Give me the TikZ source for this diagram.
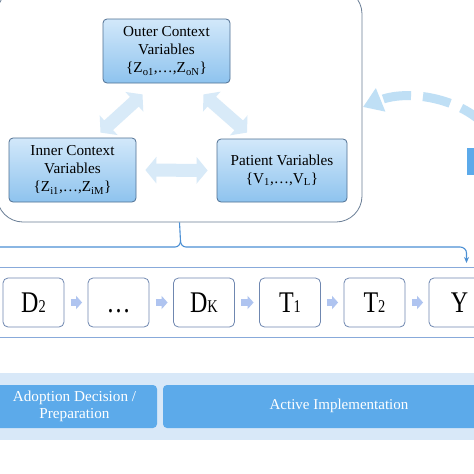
\documentclass[tikz,border=0pt]{standalone}
\usepackage{fontspec}
\setmainfont{Liberation Serif}
\newfontfamily\condserif[FakeStretch=0.8]{Liberation Serif}
\usetikzlibrary{arrows.meta}
\definecolor{boxtop}{HTML}{D2E8FA}
\definecolor{boxbot}{HTML}{8EC3EE}
\definecolor{boxline}{HTML}{4F6F92}
\definecolor{dblc}{HTML}{D8EAF8}
\definecolor{dashc}{HTML}{BFDFF5}
\definecolor{bandc}{HTML}{D8E8F8}
\definecolor{phasec}{HTML}{5CAAEA}
\definecolor{bracec}{HTML}{4C90D4}
\definecolor{rowline}{HTML}{88AADA}
\definecolor{sboxline}{HTML}{6F87B0}
\definecolor{sarrc}{HTML}{AFC4F0}
\definecolor{ctxline}{HTML}{6A7E96}
\tikzset{
  varbox/.style={draw=boxline, line width=0.8pt, rounded corners=4pt, top color=boxtop, bottom color=boxbot,
    align=center, font=\fontsize{15.2}{18}\selectfont, inner sep=0pt},
  ctxbox/.style={draw=ctxline, line width=0.8pt, rounded corners=26pt, inner sep=0pt},
  dbl/.style={draw=dblc, line width=13pt, {Triangle[length=11pt,width=26pt]}-{Triangle[length=11pt,width=26pt]}},
  stepbox/.style={draw=sboxline, line width=0.8pt, rounded corners=5pt, fill=white, minimum width=61pt, minimum height=49pt,
    inner sep=0pt, text height=20pt, text depth=0pt, font=\condserif\fontsize{30}{30}\selectfont},
  sarr/.style={draw=sarrc, line width=6.5pt, -{Triangle[length=6pt,width=13pt]}, shorten <=6.5pt, shorten >=5.5pt},
  phase/.style={fill=phasec, rounded corners=4pt, text=white, align=center, font=\fontsize{15.2}{17}\selectfont, inner sep=0pt},
  bracel/.style={draw=bracec, line width=1.1pt},
}
\newcommand{\smallsub}[1]{{\fontsize{18}{18}\selectfont #1}}
\begin{document}
\begin{tikzpicture}[x=1pt,y=-1pt]
\clip (0,0) rectangle (474,474);
\fill[white] (0,0) rectangle (474,474);
% context container
\node[ctxbox, minimum width=365pt, minimum height=234pt] (ctx) at (179.5,105) {};
% variable boxes
\node[varbox, minimum width=127pt, minimum height=64pt] (outer) at (166.5,51) {Outer Context\\Variables\\\{Z\textsubscript{o1},…,Z\textsubscript{oN}\}};
\node[varbox, minimum width=127pt, minimum height=64pt] (inner) at (72.5,170) {Inner Context\\Variables\\\{Z\textsubscript{i1},…,Z\textsubscript{iM}\}};
\node[varbox, minimum width=130pt, minimum height=63pt] (patient) at (282,170.5) {Patient Variables\\\{V\textsubscript{1},…,V\textsubscript{L}\}};
% double arrows
\draw[dbl] ([shift={(-24,11)}]outer.south) -- ([shift={(28,-5)}]inner.north);
\draw[dbl] ([shift={(37,11)}]outer.south) -- ([shift={(-35,-6)}]patient.north);
\draw[dbl] ([xshift=9]inner.east) -- ([xshift=-9]patient.west);
% feedback dashed arrow
\node[fill=phasec, minimum width=14pt, minimum height=27pt, inner sep=0pt] (rbox) at (474,161.5) {};
\coordinate (fbstart) at (484,124);
\coordinate (fbtip) at (363,107);
\draw[draw=dashc, line width=9pt, dash pattern=on 28pt off 12pt, -{Triangle[length=19pt,width=24pt]}]
  (fbstart) .. controls (455,96) and (405,90) .. (fbtip);
% row lines
\draw[draw=rowline, line width=0.9pt] (0,267) -- (474,267);
\draw[draw=rowline, line width=0.9pt] (0,337) -- (474,337);
% step boxes
\node[stepbox] (d2) at (33.5,302.5) {D\smallsub{2}};
\node[stepbox] (dots) at (118.5,302.5) {…};
\node[stepbox] (dk) at (204,302.5) {D\smallsub{K}};
\node[stepbox] (t1) at (290,302.5) {T\smallsub{1}};
\node[stepbox] (t2) at (374.5,302.5) {T\smallsub{2}};
\node[stepbox] (y) at (459.5,302.5) {Y};
\draw[sarr] (d2) -- (dots);
\draw[sarr] (dots) -- (dk);
\draw[sarr] (dk) -- (t1);
\draw[sarr] (t1) -- (t2);
\draw[sarr] (t2) -- (y);
% brace connector
\coordinate (cusp) at (180.5,241);
\coordinate (lend) at (-2,247);
\coordinate (ytip) at (466.5,263);
\draw[bracel] (ctx.south) -- (cusp) to[out=-90,in=0] (175,247) -- (lend);
\draw[bracel, -{Stealth[length=6pt,width=5pt]}] (cusp) to[out=-90,in=180] (186,247) -- (460,247) to[out=0,in=90] (466.5,253) -- (ytip);
% phase band
\fill[bandc] (0,373) rectangle (474,440);
\node[phase, minimum width=165pt, minimum height=43pt] (adopt) at (74.5,406.5) {Adoption Decision /\\Preparation};
\node[phase, minimum width=360pt, minimum height=43pt] (active) at (343,406.5) {};
\node[text=white, font=\fontsize{15}{17}\selectfont] (activetxt) at (339,405.5) {Active Implementation};
\end{tikzpicture}
\end{document}
